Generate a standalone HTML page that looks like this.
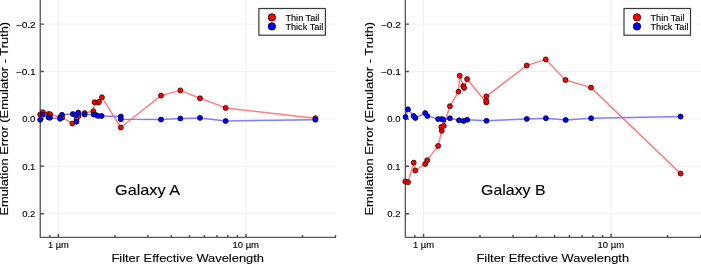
<!DOCTYPE html>
<html><head><meta charset="utf-8"><style>
html,body{margin:0;padding:0;background:#fff;width:701px;height:264px;overflow:hidden}
svg{display:block;will-change:transform}
text{font-family:"Liberation Sans", sans-serif;fill:#000;stroke:#000;stroke-width:0.12px}
</style></head><body>
<svg width="701" height="264" viewBox="0 0 701 264">
<rect width="701" height="264" fill="#fff"/>
<g transform="translate(0,0)">
<path d="M58.4 0V237.4 M246 0V237.4 M40.25 24.1H336 M40.25 71.5H336 M40.25 118.9H336 M40.25 166.3H336 M40.25 213.7H336" stroke="#f0f0f0" stroke-width="1" fill="none"/>
<path d="M40.25 0V237.4H336" stroke="#555" stroke-width="1.3" fill="none"/>
<path d="M40.25 24.1h3.6 M40.25 71.5h3.6 M40.25 118.9h3.6 M40.25 166.3h3.6 M40.25 213.7h3.6 M58.4 237.4v-3.6 M246 237.4v-3.6 M49.82 237.4v-2.3 M114.87 237.4v-2.3 M147.91 237.4v-2.3 M171.35 237.4v-2.3 M189.53 237.4v-2.3 M204.38 237.4v-2.3 M216.94 237.4v-2.3 M227.82 237.4v-2.3 M237.42 237.4v-2.3 M302.47 237.4v-2.3 M335.51 237.4v-2.3" stroke="#505050" stroke-width="1.45" fill="none"/>
<text x="15.7" y="27.5" font-size="8.9" textLength="20.1" lengthAdjust="spacingAndGlyphs">−0.2</text>
<text x="15.7" y="74.9" font-size="8.9" textLength="20.1" lengthAdjust="spacingAndGlyphs">−0.1</text>
<text x="22.2" y="122.3" font-size="8.9" textLength="13.2" lengthAdjust="spacingAndGlyphs">0.0</text>
<text x="22.2" y="169.7" font-size="8.9" textLength="13.2" lengthAdjust="spacingAndGlyphs">0.1</text>
<text x="22.2" y="217.1" font-size="8.9" textLength="13.2" lengthAdjust="spacingAndGlyphs">0.2</text>
<text x="47.9" y="247.7" font-size="8.9" textLength="21.0" lengthAdjust="spacingAndGlyphs">1 µm</text>
<text x="232.5" y="247.7" font-size="8.9" textLength="26.5" lengthAdjust="spacingAndGlyphs">10 µm</text>
<text x="111.4" y="261.6" font-size="11.8" textLength="152.6" lengthAdjust="spacingAndGlyphs">Filter Effective Wavelength</text>
<text transform="translate(8.2,215.6) rotate(-90)" x="0" y="0" font-size="11.6" textLength="193.7" lengthAdjust="spacingAndGlyphs">Emulation Error (Emulator - Truth)</text>
<path d="M40.2 114.5 L42.9 112.2 L48.6 114 L50.2 114.3 L60.1 117.2 L62.1 117.6 L72.4 123.5 L76.6 119 L78.5 116 L84.6 113.1 L93.3 111.2 L94.6 102.2 L98.2 102.6 L99 101.8 L101.9 97.3 L120.8 127.5 L161 95.6 L180.4 90.4 L200 98.3 L225.6 107.9 L315.4 118.2" stroke="#ff8080" stroke-width="1.5" fill="none" stroke-linejoin="round"/>
<circle cx="40.2" cy="114.5" r="2.5" fill="#f00" stroke="#200" stroke-width="0.75"/>
<circle cx="42.9" cy="112.2" r="2.5" fill="#f00" stroke="#200" stroke-width="0.75"/>
<circle cx="48.6" cy="114" r="2.5" fill="#f00" stroke="#200" stroke-width="0.75"/>
<circle cx="50.2" cy="114.3" r="2.5" fill="#f00" stroke="#200" stroke-width="0.75"/>
<circle cx="60.1" cy="117.2" r="2.5" fill="#f00" stroke="#200" stroke-width="0.75"/>
<circle cx="62.1" cy="117.6" r="2.5" fill="#f00" stroke="#200" stroke-width="0.75"/>
<circle cx="72.4" cy="123.5" r="2.5" fill="#f00" stroke="#200" stroke-width="0.75"/>
<circle cx="76.6" cy="119" r="2.5" fill="#f00" stroke="#200" stroke-width="0.75"/>
<circle cx="78.5" cy="116" r="2.5" fill="#f00" stroke="#200" stroke-width="0.75"/>
<circle cx="84.6" cy="113.1" r="2.5" fill="#f00" stroke="#200" stroke-width="0.75"/>
<circle cx="93.3" cy="111.2" r="2.5" fill="#f00" stroke="#200" stroke-width="0.75"/>
<circle cx="94.6" cy="102.2" r="2.5" fill="#f00" stroke="#200" stroke-width="0.75"/>
<circle cx="98.2" cy="102.6" r="2.5" fill="#f00" stroke="#200" stroke-width="0.75"/>
<circle cx="99" cy="101.8" r="2.5" fill="#f00" stroke="#200" stroke-width="0.75"/>
<circle cx="101.9" cy="97.3" r="2.5" fill="#f00" stroke="#200" stroke-width="0.75"/>
<circle cx="120.8" cy="127.5" r="2.5" fill="#f00" stroke="#200" stroke-width="0.75"/>
<circle cx="161" cy="95.6" r="2.5" fill="#f00" stroke="#200" stroke-width="0.75"/>
<circle cx="180.4" cy="90.4" r="2.5" fill="#f00" stroke="#200" stroke-width="0.75"/>
<circle cx="200" cy="98.3" r="2.5" fill="#f00" stroke="#200" stroke-width="0.75"/>
<circle cx="225.6" cy="107.9" r="2.5" fill="#f00" stroke="#200" stroke-width="0.75"/>
<circle cx="315.4" cy="118.2" r="2.5" fill="#f00" stroke="#200" stroke-width="0.75"/>
<path d="M40.2 119.8 L42.7 114.7 L48.5 117.4 L50 117.7 L60.1 118.75 L62 114.8 L72.8 114 L76 115.4 L76.5 121.7 L78.3 112.6 L84.6 114.5 L93.7 114.5 L95.5 114.8 L98.2 115.9 L101.6 115.9 L120.8 116.5 L120.8 119.2 L161 119.6 L180.4 118.5 L200 117.9 L225.6 121 L315.4 119.7" stroke="#8080ff" stroke-width="1.5" fill="none" stroke-linejoin="round"/>
<circle cx="40.2" cy="119.8" r="2.5" fill="#00f" stroke="#002" stroke-width="0.75"/>
<circle cx="42.7" cy="114.7" r="2.5" fill="#00f" stroke="#002" stroke-width="0.75"/>
<circle cx="48.5" cy="117.4" r="2.5" fill="#00f" stroke="#002" stroke-width="0.75"/>
<circle cx="50" cy="117.7" r="2.5" fill="#00f" stroke="#002" stroke-width="0.75"/>
<circle cx="60.1" cy="118.75" r="2.5" fill="#00f" stroke="#002" stroke-width="0.75"/>
<circle cx="62" cy="114.8" r="2.5" fill="#00f" stroke="#002" stroke-width="0.75"/>
<circle cx="72.8" cy="114" r="2.5" fill="#00f" stroke="#002" stroke-width="0.75"/>
<circle cx="76" cy="115.4" r="2.5" fill="#00f" stroke="#002" stroke-width="0.75"/>
<circle cx="76.5" cy="121.7" r="2.5" fill="#00f" stroke="#002" stroke-width="0.75"/>
<circle cx="78.3" cy="112.6" r="2.5" fill="#00f" stroke="#002" stroke-width="0.75"/>
<circle cx="84.6" cy="114.5" r="2.5" fill="#00f" stroke="#002" stroke-width="0.75"/>
<circle cx="93.7" cy="114.5" r="2.5" fill="#00f" stroke="#002" stroke-width="0.75"/>
<circle cx="95.5" cy="114.8" r="2.5" fill="#00f" stroke="#002" stroke-width="0.75"/>
<circle cx="98.2" cy="115.9" r="2.5" fill="#00f" stroke="#002" stroke-width="0.75"/>
<circle cx="101.6" cy="115.9" r="2.5" fill="#00f" stroke="#002" stroke-width="0.75"/>
<circle cx="120.8" cy="116.5" r="2.5" fill="#00f" stroke="#002" stroke-width="0.75"/>
<circle cx="120.8" cy="119.2" r="2.5" fill="#00f" stroke="#002" stroke-width="0.75"/>
<circle cx="161" cy="119.6" r="2.5" fill="#00f" stroke="#002" stroke-width="0.75"/>
<circle cx="180.4" cy="118.5" r="2.5" fill="#00f" stroke="#002" stroke-width="0.75"/>
<circle cx="200" cy="117.9" r="2.5" fill="#00f" stroke="#002" stroke-width="0.75"/>
<circle cx="225.6" cy="121" r="2.5" fill="#00f" stroke="#002" stroke-width="0.75"/>
<circle cx="315.4" cy="119.7" r="2.5" fill="#00f" stroke="#002" stroke-width="0.75"/>
<text x="115.0" y="195.4" font-size="15.0" textLength="65.0" lengthAdjust="spacingAndGlyphs">Galaxy A</text>
<rect x="258.9" y="8.5" width="66.5" height="26.7" fill="#fff" stroke="#3a3a3a" stroke-width="1.2"/>
<circle cx="271.9" cy="17.4" r="3.7" fill="#f00" stroke="#200" stroke-width="0.8"/>
<circle cx="271.9" cy="26.4" r="3.7" fill="#00f" stroke="#002" stroke-width="0.8"/>
<text x="285.4" y="20.6" font-size="9.1" textLength="34" lengthAdjust="spacingAndGlyphs">Thin Tail</text>
<text x="285.4" y="29.7" font-size="9.1" textLength="38" lengthAdjust="spacingAndGlyphs">Thick Tail</text>
</g>
<g transform="translate(365.1,0)">
<path d="M58.4 0V237.4 M246 0V237.4 M40.25 24.1H336 M40.25 71.5H336 M40.25 118.9H336 M40.25 166.3H336 M40.25 213.7H336" stroke="#f0f0f0" stroke-width="1" fill="none"/>
<path d="M40.25 0V237.4H336" stroke="#555" stroke-width="1.3" fill="none"/>
<path d="M40.25 24.1h3.6 M40.25 71.5h3.6 M40.25 118.9h3.6 M40.25 166.3h3.6 M40.25 213.7h3.6 M58.4 237.4v-3.6 M246 237.4v-3.6 M49.82 237.4v-2.3 M114.87 237.4v-2.3 M147.91 237.4v-2.3 M171.35 237.4v-2.3 M189.53 237.4v-2.3 M204.38 237.4v-2.3 M216.94 237.4v-2.3 M227.82 237.4v-2.3 M237.42 237.4v-2.3 M302.47 237.4v-2.3 M335.51 237.4v-2.3" stroke="#505050" stroke-width="1.45" fill="none"/>
<text x="15.7" y="27.5" font-size="8.9" textLength="20.1" lengthAdjust="spacingAndGlyphs">−0.2</text>
<text x="15.7" y="74.9" font-size="8.9" textLength="20.1" lengthAdjust="spacingAndGlyphs">−0.1</text>
<text x="22.2" y="122.3" font-size="8.9" textLength="13.2" lengthAdjust="spacingAndGlyphs">0.0</text>
<text x="22.2" y="169.7" font-size="8.9" textLength="13.2" lengthAdjust="spacingAndGlyphs">0.1</text>
<text x="22.2" y="217.1" font-size="8.9" textLength="13.2" lengthAdjust="spacingAndGlyphs">0.2</text>
<text x="47.9" y="247.7" font-size="8.9" textLength="21.0" lengthAdjust="spacingAndGlyphs">1 µm</text>
<text x="232.5" y="247.7" font-size="8.9" textLength="26.5" lengthAdjust="spacingAndGlyphs">10 µm</text>
<text x="111.4" y="261.6" font-size="11.8" textLength="152.6" lengthAdjust="spacingAndGlyphs">Filter Effective Wavelength</text>
<text transform="translate(8.2,215.6) rotate(-90)" x="0" y="0" font-size="11.6" textLength="193.7" lengthAdjust="spacingAndGlyphs">Emulation Error (Emulator - Truth)</text>
<path d="M40.2 181.5 L42.9 182.2 L48.6 162.6 L50.2 170.6 L60.1 164 L62.1 160.3 L73 145.9 L76.7 130.8 L76.2 127 L78.7 125.8 L84.8 106.2 L93.4 91.6 L94.6 75.7 L98.2 86 L99 87.9 L102 79.1 L121.2 102.4 L121.2 100.9 L121.2 96.4 L161.6 65.5 L180.7 59.4 L200.4 80 L225.9 87.6 L315.5 173.6" stroke="#ff8080" stroke-width="1.5" fill="none" stroke-linejoin="round"/>
<circle cx="40.2" cy="181.5" r="2.5" fill="#f00" stroke="#200" stroke-width="0.75"/>
<circle cx="42.9" cy="182.2" r="2.5" fill="#f00" stroke="#200" stroke-width="0.75"/>
<circle cx="48.6" cy="162.6" r="2.5" fill="#f00" stroke="#200" stroke-width="0.75"/>
<circle cx="50.2" cy="170.6" r="2.5" fill="#f00" stroke="#200" stroke-width="0.75"/>
<circle cx="60.1" cy="164" r="2.5" fill="#f00" stroke="#200" stroke-width="0.75"/>
<circle cx="62.1" cy="160.3" r="2.5" fill="#f00" stroke="#200" stroke-width="0.75"/>
<circle cx="73" cy="145.9" r="2.5" fill="#f00" stroke="#200" stroke-width="0.75"/>
<circle cx="76.7" cy="130.8" r="2.5" fill="#f00" stroke="#200" stroke-width="0.75"/>
<circle cx="76.2" cy="127" r="2.5" fill="#f00" stroke="#200" stroke-width="0.75"/>
<circle cx="78.7" cy="125.8" r="2.5" fill="#f00" stroke="#200" stroke-width="0.75"/>
<circle cx="84.8" cy="106.2" r="2.5" fill="#f00" stroke="#200" stroke-width="0.75"/>
<circle cx="93.4" cy="91.6" r="2.5" fill="#f00" stroke="#200" stroke-width="0.75"/>
<circle cx="94.6" cy="75.7" r="2.5" fill="#f00" stroke="#200" stroke-width="0.75"/>
<circle cx="98.2" cy="86" r="2.5" fill="#f00" stroke="#200" stroke-width="0.75"/>
<circle cx="99" cy="87.9" r="2.5" fill="#f00" stroke="#200" stroke-width="0.75"/>
<circle cx="102" cy="79.1" r="2.5" fill="#f00" stroke="#200" stroke-width="0.75"/>
<circle cx="121.2" cy="102.4" r="2.5" fill="#f00" stroke="#200" stroke-width="0.75"/>
<circle cx="121.2" cy="100.9" r="2.5" fill="#f00" stroke="#200" stroke-width="0.75"/>
<circle cx="121.2" cy="96.4" r="2.5" fill="#f00" stroke="#200" stroke-width="0.75"/>
<circle cx="161.6" cy="65.5" r="2.5" fill="#f00" stroke="#200" stroke-width="0.75"/>
<circle cx="180.7" cy="59.4" r="2.5" fill="#f00" stroke="#200" stroke-width="0.75"/>
<circle cx="200.4" cy="80" r="2.5" fill="#f00" stroke="#200" stroke-width="0.75"/>
<circle cx="225.9" cy="87.6" r="2.5" fill="#f00" stroke="#200" stroke-width="0.75"/>
<circle cx="315.5" cy="173.6" r="2.5" fill="#f00" stroke="#200" stroke-width="0.75"/>
<path d="M40.4 117 L42.9 109.3 L48.5 115.9 L50.2 118 L60.1 113.1 L62.2 115.9 L73 119.1 L76.7 119.1 L78.3 119.8 L84.8 118.3 L93.9 120.3 L98.4 120.9 L102.1 119.8 L121.4 120.8 L161.7 118.9 L180.8 118.2 L200.6 119.9 L226 118.2 L315.5 116.6" stroke="#8080ff" stroke-width="1.5" fill="none" stroke-linejoin="round"/>
<circle cx="40.4" cy="117" r="2.5" fill="#00f" stroke="#002" stroke-width="0.75"/>
<circle cx="42.9" cy="109.3" r="2.5" fill="#00f" stroke="#002" stroke-width="0.75"/>
<circle cx="48.5" cy="115.9" r="2.5" fill="#00f" stroke="#002" stroke-width="0.75"/>
<circle cx="50.2" cy="118" r="2.5" fill="#00f" stroke="#002" stroke-width="0.75"/>
<circle cx="60.1" cy="113.1" r="2.5" fill="#00f" stroke="#002" stroke-width="0.75"/>
<circle cx="62.2" cy="115.9" r="2.5" fill="#00f" stroke="#002" stroke-width="0.75"/>
<circle cx="73" cy="119.1" r="2.5" fill="#00f" stroke="#002" stroke-width="0.75"/>
<circle cx="76.7" cy="119.1" r="2.5" fill="#00f" stroke="#002" stroke-width="0.75"/>
<circle cx="78.3" cy="119.8" r="2.5" fill="#00f" stroke="#002" stroke-width="0.75"/>
<circle cx="84.8" cy="118.3" r="2.5" fill="#00f" stroke="#002" stroke-width="0.75"/>
<circle cx="93.9" cy="120.3" r="2.5" fill="#00f" stroke="#002" stroke-width="0.75"/>
<circle cx="98.4" cy="120.9" r="2.5" fill="#00f" stroke="#002" stroke-width="0.75"/>
<circle cx="102.1" cy="119.8" r="2.5" fill="#00f" stroke="#002" stroke-width="0.75"/>
<circle cx="121.4" cy="120.8" r="2.5" fill="#00f" stroke="#002" stroke-width="0.75"/>
<circle cx="161.7" cy="118.9" r="2.5" fill="#00f" stroke="#002" stroke-width="0.75"/>
<circle cx="180.8" cy="118.2" r="2.5" fill="#00f" stroke="#002" stroke-width="0.75"/>
<circle cx="200.6" cy="119.9" r="2.5" fill="#00f" stroke="#002" stroke-width="0.75"/>
<circle cx="226" cy="118.2" r="2.5" fill="#00f" stroke="#002" stroke-width="0.75"/>
<circle cx="315.5" cy="116.6" r="2.5" fill="#00f" stroke="#002" stroke-width="0.75"/>
<text x="116.0" y="195.4" font-size="15.0" textLength="64.4" lengthAdjust="spacingAndGlyphs">Galaxy B</text>
<rect x="258.9" y="8.5" width="66.5" height="26.7" fill="#fff" stroke="#3a3a3a" stroke-width="1.2"/>
<circle cx="271.9" cy="17.4" r="3.7" fill="#f00" stroke="#200" stroke-width="0.8"/>
<circle cx="271.9" cy="26.4" r="3.7" fill="#00f" stroke="#002" stroke-width="0.8"/>
<text x="285.4" y="20.6" font-size="9.1" textLength="34" lengthAdjust="spacingAndGlyphs">Thin Tail</text>
<text x="285.4" y="29.7" font-size="9.1" textLength="38" lengthAdjust="spacingAndGlyphs">Thick Tail</text>
</g>
</svg>
</body></html>
